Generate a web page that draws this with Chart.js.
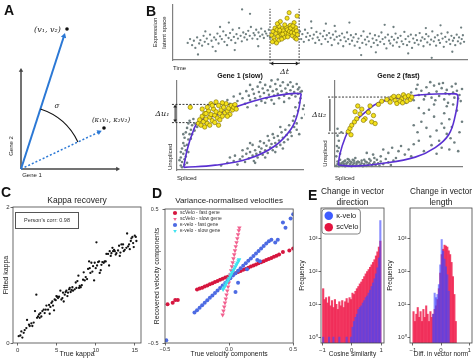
<!DOCTYPE html>
<html>
<head>
<meta charset="utf-8">
<title>velocity figure</title>
<script src="https://cdn.jsdelivr.net/npm/chart.js@4.4.1/dist/chart.umd.min.js"></script>
<style>
  html, body { margin: 0; padding: 0; background: #fff; }
  body { position: relative; width: 474px; height: 359px; overflow: hidden; font-family: 'Liberation Sans', Arial, sans-serif; }
  canvas { position: absolute; }
  .tag { position: absolute; font-size: 14px; line-height: 14px; font-weight: bold; color: #111; }
  .corr { position: absolute; left: 15px; top: 212px; width: 62px; height: 15px; border: 1px solid #555;
          font-size: 5.5px; line-height: 15px; text-align: center; color: #333; }
</style>
</head>
<body>
<canvas id="chartA" width="160" height="180" style="left:0;top:0"></canvas>
<canvas id="chartLatent" width="324" height="80" style="left:150px;top:0"></canvas>
<canvas id="chartGene1" width="150" height="115" style="left:155px;top:68px"></canvas>
<canvas id="chartGene2" width="164" height="115" style="left:310px;top:68px"></canvas>
<canvas id="chartKappa" width="150" height="164" style="left:0;top:195px"></canvas>
<canvas id="chartVel" width="152" height="163" style="left:146px;top:196px"></canvas>
<canvas id="chartDir" width="88" height="172" style="left:298px;top:187px"></canvas>
<canvas id="chartLen" width="88" height="172" style="left:386px;top:187px"></canvas>
<div class="tag" style="left:4px;top:3px">A</div>
<div class="tag" style="left:146px;top:4px">B</div>
<div class="tag" style="left:1px;top:185px">C</div>
<div class="tag" style="left:152px;top:186px">D</div>
<div class="tag" style="left:308px;top:188px">E</div>
<div class="corr">Person's corr: 0.98</div>

<script>
// ---------- panel A: velocity vectors in gene space ----------
const geneAxisX = [96.5, 0];
const geneAxisY = [0, 98.5];
const vecV = [43, 133];          // arrow tip towards (v1, v2)
const vecK = [78, 37];           // arrow tip towards (k1 v1, k2 v2)
const vecEnds = [[46, 140], [83, 41]];
const sigmaRadius = 63;

// ---------- panel B: latent time strip ----------
const latentGray = [
  [5.0,31],[5.8,38],[6.5,27],[7.1,35],[7.6,22],[8.2,41],[8.9,30],[9.3,36],[9.9,26],[10.4,44],
  [10.8,33],[11.5,39],[12.0,29],[12.6,46],[13.1,35],[13.5,24],[14.0,41],[14.6,37],[15.1,48],[15.5,30],
  [16.0,43],[16.6,38],[17.1,52],[17.5,33],[18.0,45],[18.4,27],[18.9,40],[19.4,49],[19.8,36],[20.3,55],
  [20.7,42],[21.2,31],[21.6,47],[22.1,39],[22.5,58],[23.0,44],[23.4,34],[23.9,50],[24.3,41],[24.8,47],
  [25.2,37],[25.6,53],[26.1,44],[26.5,60],[27.0,39],[27.4,49],[27.8,45],[28.3,55],[28.7,38],[29.1,50],
  [29.6,43],[30.0,57],[30.4,46],[30.9,40],[31.3,52],[31.7,48],[32.2,44],[32.6,55],[33.0,41],
  [8.5,10],[14.5,16],[23.5,92],[26.2,84],[19,68],[11,52],[21,18],[29,25],[16,60],
  [43.2,52],[43.6,38],[44.0,47],[44.5,33],[44.9,55],[45.3,42],[45.8,49],[46.2,36],[46.6,44],[47.1,58],
  [47.5,39],[47.9,46],[48.4,31],[48.8,51],[49.2,41],[49.7,36],[50.1,48],[50.5,29],[51.0,43],[51.4,53],
  [51.8,38],[52.3,45],[52.7,33],[53.1,49],[53.6,40],[54.0,27],[54.4,46],[54.9,37],[55.3,52],[55.7,42],
  [56.2,30],[56.6,44],[57.0,36],[57.5,48],[57.9,25],[58.3,41],[58.8,34],[59.2,50],[59.6,38],[60.1,29],
  [60.5,45],[60.9,35],[61.4,41],[61.8,26],[62.2,47],[62.7,33],[63.1,39],[63.5,22],[64.0,44],[64.4,31],
  [64.8,52],[65.3,37],[65.7,28],[66.1,42],[66.6,34],[67.0,48],[67.4,24],[67.9,39],[68.3,31],[68.7,45],
  [69.2,36],[69.6,27],[70.0,43],[70.5,33],[70.9,50],[71.3,38],[71.8,29],[72.2,41],[72.6,21],[73.1,46],
  [73.5,35],[73.9,30],[74.4,42],[74.8,26],[75.2,37],[75.7,48],[76.1,32],[76.5,40],[77.0,24],[77.4,44],
  [77.8,34],[78.3,29],[78.7,51],[79.1,38],[79.6,27],[80.0,43],[80.4,33],[80.9,46],[81.3,22],[81.7,39],
  [82.2,31],[82.6,45],[83.0,36],[83.5,28],[83.9,49],[84.3,35],[84.8,41],[85.2,25],[85.6,38],[86.1,47],
  [86.5,32],[86.9,43],[87.4,28],[87.8,37],[88.2,52],[88.7,34],[89.1,41],[89.5,26],[90.0,45],[90.4,36],
  [90.8,31],[91.3,48],[91.7,39],[92.1,24],[92.6,42],[93.0,33],[93.4,50],[93.9,37],[94.3,29],[94.7,44],
  [95.2,35],[95.6,40],[96.0,27],[96.5,46],[96.9,34],[97.3,41],[97.8,30],[98.2,38],[98.6,45],[99.0,33],
  [47,70],[52,66],[55,62],[64,9],[69,14],[75,60],[80,12],[86,58],[88,4],[91,63],[95,15],[98,59],[60,68],[72,64]
];
const latentYellow = [
  [33.6,45],[34.0,52],[34.3,40],[34.7,58],[35.0,48],[35.4,55],[35.7,43],[36.1,61],[36.4,50],[36.8,46],
  [37.1,57],[37.5,53],[37.8,41],[38.2,49],[38.5,60],[38.9,55],[39.2,47],[39.6,52],[39.9,63],[40.3,50],
  [40.6,44],[41.0,56],[41.3,49],[41.7,59],[42.0,53],[42.3,46],[34.5,35],[36.0,36],[37.3,47],[38.0,64],
  [39.0,42],[40.0,58],[41.5,40],[35.5,66],[36.5,70],[38.8,76],[39.5,86],[41.2,68],[42.2,80],[37.0,38],
  [33.8,33],[35.2,31],[40.8,62],[42.0,38],[36.3,54]
];
const timeWindow = [33, 42.9];

// ---------- panel B: phase portraits ----------
const gene1Curve = [
  [5.3,2.9],[30.3,5.4],[56.6,12.5],[77.6,26.8],[90.8,46.4],[96,64.3],[98.2,82.1],[98.2,85],
  [88.2,85],[69.7,80.4],[48.7,71.4],[30.3,60.7],[17.1,53.6],[11.8,39.3],[7.9,21.4],[5.8,7.1],[5.3,2.9]
];
const gene1Gray = [
  [3,5],[4,9],[3,14],[5,18],[4,24],[6,12],[5,30],[7,22],[6,36],[8,28],[7,42],[9,34],[8,47],[10,40],[9,52],
  [4,3],[6,6],[8,8],[11,45],[12,50],[3,20],[5,40],[7,15],[10,55],[13,57],[14,52],[2,11],[6,27],[9,20],[11,35],
  [40,8],[45,10],[48,6],[50,12],[52,15],[54,9],[55,18],[57,13],[58,20],[60,16],[61,10],[62,22],[63,18],[64,14],
  [65,26],[66,20],[67,24],[68,17],[69,30],[70,22],[71,27],[72,19],[73,33],[74,25],[75,29],[76,22],[77,36],[78,30],
  [79,26],[80,38],[81,33],[82,28],[83,42],[84,36],[85,31],[86,45],[87,39],[88,34],[89,50],[90,42],[91,38],[92,55],
  [60,28],[66,32],[72,38],[56,24],[62,8],[70,14],[78,20],[84,24],[46,16],[52,22],[58,30],[76,40],[82,48],[35,5],[42,14],
  [93,60],[95,52],[96,66],[94,70],[97,75],[99,58],[100,68],[98,80],[101,72],[95,45],[97,40],[102,62],[99,88],[96,90],[93,48],
  [40,78],[42,74],[45,82],[48,77],[50,85],[52,80],[54,74],[55,88],[57,83],[58,78],[60,90],[61,85],[62,80],[64,93],
  [65,87],[66,82],[67,77],[68,91],[69,86],[70,95],[71,80],[72,89],[73,84],[74,93],[75,78],[76,88],[77,83],[78,96],
  [79,90],[80,85],[81,80],[82,94],[83,88],[84,98],[85,83],[86,91],[87,86],[88,95],[89,80],[90,89],[91,84],[92,93],
  [93,87],[94,82],[95,96],[96,85],[97,92],[98,87],[63,72],[70,75],[77,74],[85,76],[47,70],[56,70],[90,98],[75,100],
  [66,98],[58,95],[80,101],[36,70],[38,66],[44,68],
  [16,48],[18,55],[20,50],[22,58],[24,53],[26,60],[28,56],[30,62],[32,58],[14,44],[12,40]
];
const gene1Yellow = [
  [10.5,70],[17,52],[18,56],[19,50],[20,60],[21,54],[22,63],[23,57],[24,52],[25,66],[26,59],[27,62],[28,55],
  [29,68],[30,61],[31,65],[32,58],[33,72],[34,63],[35,67],[36,60],[37,70],[38,64],[39,74],[40,66],[41,69],
  [42,62],[43,72],[44,67],[45,70],[46,73],[47,68],[24,70],[27,74],[31,76],[20,68],[22,48],[26,50],[30,53],
  [34,56],[23,63],[28,72],[36,75],[40,60],[33,50]
];
const gene1Du = [52.9, 73.2];

const gene2Curve = [
  [2.6,1.9],[3.9,14.8],[7.9,33.3],[13.2,48.1],[23.7,63],[34.2,74.1],[50,79.6],[68.4,83.3],[94.7,84.4],
  [96.8,81.5],[94.7,59.3],[89.5,37],[78.9,22.2],[63.2,11.1],[36.8,3.7],[15.8,0.7],[2.6,1.9]
];
const gene2Gray = [
  [1,1],[2,3],[3,0.5],[4,2],[5,4],[6,1],[7,3],[8,0.5],[9,2],[10,5],[11,1],[12,3],[13,0.5],[14,2],[15,4],[16,1],
  [17,3],[18,6],[19,1],[20,2],[21,4],[22,0.5],[23,3],[24,6],[25,1],[26,2],[27,4],[28,7],[29,1],[30,3],[31,5],
  [32,2],[33,8],[34,4],[35,1],[36,6],[38,3],[40,9],[42,5],[44,2],[46,7],[2,6],[4,8],[6,5],[8,7],[10,9],[12,6],
  [14,8],[16,10],[3,4],[7,6],[11,8],[15,7],[19,5],[23,8],[27,9],[31,10],[5,1.5],[9,4],[13,5],[17,5],[21,7],[25,5],
  [1,12],[2,18],[1.5,24],[3,30],[2,36],[4,15],[3,22],[5,40],[2,44],
  [30,14],[36,12],[42,16],[48,10],[50,18],[55,14],[52,24],[58,20],[45,22],[60,12],[38,20],[25,16],[62,26],[66,30],[70,18],
  [65,40],[68,52],[72,45],[75,35],[78,58],[80,42],[82,30],[84,50],[86,62],[88,38],[90,55],[92,46],[94,28],[96,65],
  [98,40],[74,66],[70,62],[88,70],[93,72],[100,52],[84,22],[76,25],[80,15],[90,20],[97,18],[62,48],[66,68],[78,72],
  [91,33],[86,45],
  [58,80],[60,86],[62,77],[64,90],[66,83],[68,88],[70,78],[72,92],[74,85],[76,80],[78,94],[80,87],[82,82],[84,91],
  [86,78],[88,89],[90,84],[92,93],[94,80],[96,88],[98,83],[100,90],[99,76],[95,96],[85,97],[75,98],[65,95],[71,82],
  [79,77],[87,85],[93,86],[97,79],[56,74],[53,78],[89,74],[82,96]
];
const gene2Yellow = [
  [10.5,40.7],[11.8,44.4],[13.2,48.1],[15.3,51.9],[17.1,55.6],[19.7,61.1],[17.9,70.4],[21.1,66.7],[23.7,55.6],
  [26.3,63],[28.9,51.9],[30.3,59.3],[31.6,50],[27.6,70.4],[34.2,72.2],[36.8,75.9],[40.8,77.8],[44.7,79.6],
  [47.4,77],[50,81.5],[52.6,78.5],[53.9,83.3],[55.3,80.7],[57.9,82.2],[59.2,77.8],[60.5,80.7],[43.4,74.8],
  [48.7,73.3],[51.3,75.9],[12.6,37],[15.8,63.7],[22.4,53.7],[53.2,74],[56.6,75.9],[46.3,81.5]
];
const gene2Du = [38.9, 80.7];

// ---------- panel C: kappa recovery (true, fitted) ----------
const kappaPoints = [
  [0.13,0.10],[0.34,0.11],[0.60,0.08],[0.47,0.17],[0.77,0.15],[0.90,0.19],[1.11,0.22],[1.20,0.34],[1.45,0.27],
  [1.54,0.25],[1.75,0.29],[1.88,0.25],[2.05,0.30],[2.22,0.47],[2.39,0.71],[2.48,0.37],[2.61,0.39],[2.74,0.42],
  [2.82,0.37],[2.91,0.44],[3.03,0.39],[3.16,0.47],[3.33,0.49],[3.46,0.44],[3.59,0.49],[3.68,0.55],[3.89,0.49],
  [4.02,0.56],[4.10,0.43],[4.19,0.53],[4.32,0.59],[4.44,0.61],[4.53,0.55],[4.66,0.48],[4.74,0.64],[4.87,0.63],
  [4.96,0.69],[5.04,0.68],[5.17,0.66],[5.30,0.68],[5.47,0.77],[5.60,0.64],[5.73,0.66],[5.81,0.74],[5.90,0.61],
  [6.03,0.71],[6.15,0.75],[6.24,0.77],[6.37,0.69],[6.45,0.74],[6.58,0.79],[6.67,0.81],[6.79,0.75],[6.88,0.78],
  [7.01,0.82],[7.09,0.77],[7.31,0.79],[7.44,0.89],[7.52,0.81],[7.65,0.91],[7.78,0.99],[7.86,0.81],[7.95,0.84],
  [8.08,0.82],[8.21,0.85],[8.38,0.93],[8.46,1.04],[8.59,0.92],[8.72,0.97],[8.89,0.94],[9.02,1.09],[9.15,1.20],
  [9.23,1.10],[9.32,1.03],[9.44,1.18],[9.57,1.05],[9.66,1.13],[9.79,0.92],[9.87,1.18],[10.00,1.10],[10.09,1.48],
  [10.17,1.14],[10.30,1.19],[10.43,1.20],[10.51,1.03],[10.64,1.07],[10.73,1.15],[10.85,1.19],[11.03,1.18],
  [11.15,1.20],[11.28,1.20],[11.37,1.31],[11.58,1.31],[11.71,1.14],[11.79,1.35],[11.92,1.28],[12.01,1.32],
  [12.14,1.40],[12.22,1.35],[12.35,1.37],[12.44,1.35],[12.56,1.30],[12.65,1.32],[12.86,1.36],[12.99,1.43],
  [13.08,1.28],[13.16,1.33],[13.29,1.45],[13.42,1.40],[13.50,1.45],[13.59,1.35],[13.72,1.37],[13.93,1.40],
  [14.02,1.61],[14.15,1.42],[14.27,1.45],[14.36,1.38],[14.49,1.50],[14.57,1.54],[14.70,1.56],[14.79,1.47],
  [14.87,1.41],[15.00,1.58],[15.13,1.56],[15.21,1.50]
];
const kappaXTicks = [0, 5, 10, 15];
const kappaYTicks = [0, 2];

// ---------- panel D: variance-normalised velocities (true, recovered) ----------
const scveloFast = [
  [-0.48,-0.21],[-0.44,-0.20],[-0.42,-0.18],[-0.40,-0.18],
  [-0.25,-0.100],[-0.23,-0.094],[-0.21,-0.087],[-0.19,-0.078],[-0.17,-0.071],[-0.15,-0.061],[-0.13,-0.054],
  [-0.11,-0.045],[-0.09,-0.038],[-0.07,-0.028],[-0.05,-0.021],[-0.03,-0.012],[-0.01,-0.005],[0.01,0.004],
  [0.03,0.013],[0.05,0.020],[0.07,0.029],[0.09,0.037],[0.11,0.046],[0.13,0.053],[0.15,0.062],[0.17,0.070],
  [0.19,0.078],[0.21,0.086],[0.23,0.095],[0.25,0.102],[0.27,0.111],[0.29,0.119],[0.31,0.127],[0.33,0.135],
  [0.35,0.144],[0.37,0.152],[0.39,0.160],[0.42,0.18],[0.47,0.19],[0.50,0.205]
];
const scveloSlow = [
  [-0.050,-0.29],[-0.044,-0.26],[-0.038,-0.23],[-0.032,-0.20],[-0.026,-0.17],[-0.020,-0.14],[-0.014,-0.11],
  [-0.008,-0.08],[-0.002,-0.05],[0.004,-0.02],[0.010,0.01],[0.016,0.04],[0.022,0.07],[0.028,0.10],[0.034,0.13],
  [0.040,0.16],[0.046,0.19],[0.052,0.22],[0.058,0.25],[0.064,0.28],[0.070,0.31],[0.076,0.34],[0.080,0.36]
];
const kvFast = [
  [-0.27,-0.273],[-0.25,-0.255],[-0.23,-0.237],[-0.21,-0.218],[-0.19,-0.200],[-0.17,-0.181],[-0.15,-0.163],
  [-0.13,-0.145],[-0.11,-0.126],[-0.09,-0.108],[-0.07,-0.089],[-0.05,-0.071],[-0.03,-0.053],[-0.01,-0.034],
  [0.01,-0.016],[0.03,0.003],[0.05,0.021],[0.07,0.039],[0.09,0.058],[0.11,0.076],[0.13,0.095],[0.15,0.113],
  [0.17,0.131],[0.19,0.150],[0.21,0.168],[0.23,0.187],[0.25,0.205],[0.27,0.223],[0.29,0.242],[0.31,0.260],
  [0.33,0.27],[0.36,0.25],[0.38,0.27],[0.42,0.40],[0.44,0.36],[0.48,0.43],[0.50,0.46],[0.24,0.11],[0.22,0.12],
  [0.14,0.05],[0.07,-0.05],[0.05,-0.12],[-0.49,-0.48]
];
const kvSlow = [
  [-0.047,-0.100],[-0.039,-0.086],[-0.031,-0.072],[-0.023,-0.057],[-0.015,-0.043],[-0.007,-0.029],[0.001,-0.015],
  [0.009,-0.001],[0.017,0.014],[0.025,0.028],[0.033,0.042],[0.041,0.056],[0.049,0.071],[0.057,0.085],
  [0.065,0.099],[0.073,0.113],[0.078,0.122]
];
const velTicksX = [-0.5, 0, 0.5];
const velLabelsX = ['\u22120.5', '0.0', '0.5'];
const velTicksY = [-0.5, 0.5];
const velLabelsY = ['\u22120.5', '0.5'];

// ---------- panel E: histograms (bin centres, counts) ----------
const dirBins = [-0.975,-0.925,-0.875,-0.825,-0.775,-0.725,-0.675,-0.625,-0.575,-0.525,-0.475,-0.425,-0.375,-0.325,
  -0.275,-0.225,-0.175,-0.125,-0.075,-0.025,0.025,0.075,0.125,0.175,0.225,0.275,0.325,0.375,0.425,0.475,0.525,
  0.575,0.625,0.675,0.725,0.775,0.825,0.875,0.925,0.975];
const dirKappa = [1,null,null,null,1,null,null,1,null,null,null,1,null,null,null,null,1,null,null,1,
  2,3,4,5,7,8,9,11,13,16,18,22,27,35,45,60,85,130,260,3600];
const dirScvelo = [30,14,16,11,17,9,13,8,14,10,7,12,9,13,8,12,15,11,16,14,
  22,20,25,30,35,42,48,58,70,85,100,115,135,160,190,230,300,400,560,850];

const lenBins = [-0.975,-0.925,-0.875,-0.825,-0.775,-0.725,-0.675,-0.625,-0.575,-0.525,-0.475,-0.425,-0.375,-0.325,
  -0.275,-0.225,-0.175,-0.125,-0.075,-0.025,0.025,0.075,0.125,0.175,0.225,0.275,0.325,0.375,0.425,0.475,0.525];
const lenKappa = [null,null,null,null,null,null,null,null,null,null,null,null,null,null,
  5,22,16,20,40,160,950,420,240,140,80,25,null,null,null,null,null];
const lenScvelo = [6,3,5,8,4,6,3,7,4,9,5,3,6,4,5,7,9,14,30,90,330,480,640,600,560,430,330,190,70,20,3];

const histTicksX = [-1, 0, 1];
const histLabelsX = ['\u22121', '0', '1'];
const freqTicks = [1, 10, 100, 1000];
const freqLabels = ['10\u2070', '10\u00b9', '10\u00b2', '10\u00b3'];

// ---------- shared style ----------
const GRAY = '#6f7f80';
const YELLOW = '#f4e11c';
const YELLOW_EDGE = '#7a6a00';
const PURPLE = '#5a30d2';
const ARROW_BLUE = '#2b78d5';
const SERIF = '"DejaVu Serif", serif';
const SANS = '"Liberation Sans", Arial, sans-serif';

Chart.defaults.font.family = SANS;
Chart.defaults.color = '#333';
Chart.defaults.animation = false;
Chart.defaults.responsive = false;
Chart.defaults.devicePixelRatio = 1;
Chart.defaults.events = [];
Chart.defaults.layout.autoPadding = false;
Chart.defaults.plugins.legend.display = false;
Chart.defaults.plugins.tooltip.enabled = false;

const toXY = arr => arr.map(([x, y]) => ({x, y}));
const toBars = (bins, counts) => bins.map((b, i) => ({x: b, y: counts[i]}));

// straight segment, optional triangle heads at either end
function segment(from, to, opts = {}) {
  const ang = Math.atan2(to[0] - from[0], to[1] - from[1]) * 180 / Math.PI;
  const heads = opts.heads || [false, false];
  const r = opts.head || 2.5;
  const color = opts.color || '#222';
  return {
    data: toXY([from, to]),
    showLine: true,
    borderColor: color,
    borderWidth: opts.width || 1,
    borderDash: opts.dash || [],
    pointStyle: 'triangle',
    pointRadius: [heads[0] ? r : 0, heads[1] ? r : 0],
    pointRotation: [ang + 180, ang],
    pointBackgroundColor: color,
    pointBorderWidth: 0,
    clip: false
  };
}

// text placed at data coordinates
function notesPlugin(items) {
  return {
    id: 'notes',
    afterDatasetsDraw(chart) {
      const {ctx, scales: {x, y}} = chart;
      items.forEach(n => {
        ctx.save();
        ctx.font = n.font;
        ctx.fillStyle = n.color || '#222';
        ctx.textAlign = n.align || 'center';
        ctx.textBaseline = 'middle';
        ctx.translate(x.getPixelForValue(n.x), y.getPixelForValue(n.y));
        if (n.rotation) ctx.rotate(n.rotation * Math.PI / 180);
        ctx.fillText(n.text, 0, 0);
        ctx.restore();
      });
    }
  };
}

// matplotlib style box around the axes
const framePlugin = {
  id: 'frame',
  afterDatasetsDraw(chart) {
    const {ctx, chartArea: a} = chart;
    ctx.save();
    ctx.strokeStyle = '#444';
    ctx.lineWidth = 0.8;
    ctx.strokeRect(a.left, a.top, a.width, a.height);
    ctx.restore();
  }
};

// legend inside the plot, top left, optionally boxed
function legendInside(dx, dy, boxed) {
  return {
    id: 'legendInside',
    afterLayout(chart) {
      const lg = chart.legend, a = chart.chartArea;
      if (!lg) return;
      lg.left = a.left + dx;
      lg.top = a.top + dy;
      lg.right = a.right;
      lg.bottom = a.bottom;
    },
    afterDraw(chart) {
      const lg = chart.legend;
      if (!boxed || !lg || !lg.columnSizes || !lg.columnSizes[0]) return;
      const col = lg.columnSizes[0];
      const pad = lg.options.labels.padding;
      const {ctx} = chart;
      ctx.save();
      ctx.strokeStyle = '#666';
      ctx.lineWidth = 0.8;
      ctx.beginPath();
      ctx.roundRect(lg.left + pad - 3, lg.top + pad - 3, col.width + 5, col.height - pad + 6, 3);
      ctx.stroke();
      ctx.restore();
    }
  };
}

// arc marking the angle between the two vectors
function anglePlugin(v, w, radius) {
  return {
    id: 'angleArc',
    afterDatasetsDraw(chart) {
      const {ctx, scales: {x, y}} = chart;
      const cx = x.getPixelForValue(0), cy = y.getPixelForValue(0);
      const r = x.getPixelForValue(radius) - cx;
      const a0 = Math.atan2(y.getPixelForValue(v[1]) - cy, x.getPixelForValue(v[0]) - cx);
      const a1 = Math.atan2(y.getPixelForValue(w[1]) - cy, x.getPixelForValue(w[0]) - cx);
      ctx.save();
      ctx.strokeStyle = '#111';
      ctx.lineWidth = 1.1;
      ctx.beginPath();
      ctx.arc(cx, cy, r, a0, a1, false);
      ctx.stroke();
      ctx.restore();
    }
  };
}

// axis with fixed ticks, outward tick marks (C, D, E)
function plotAxis(o) {
  return {
    type: o.type || 'linear',
    min: o.min,
    max: o.max,
    offset: false,
    afterBuildTicks: s => { s.ticks = o.ticks.map(v => ({value: v})); },
    ticks: {font: {size: o.tickSize || 6}, color: '#333', padding: o.tickPad == null ? 1 : o.tickPad,
            maxRotation: 0, autoSkip: false, callback: (v, i) => o.labels[i]},
    grid: {display: true, drawOnChartArea: false, offset: false, tickLength: 2.5, color: '#444', lineWidth: 0.8},
    border: {display: false},
    title: {display: true, text: o.title, font: {size: o.titleSize || 7}, color: '#222', padding: o.titlePad},
    afterFit: s => { if (s.isHorizontal()) s.height = o.fit; else s.width = o.fit; }
  };
}

// bare axis: only the spine line (B)
function bareAxis(title, align, titleFont, titlePad, fit) {
  return {
    type: 'linear', min: 0, max: 100,
    ticks: {display: false},
    grid: {display: false},
    border: {display: true, color: '#808080', width: 1.2},
    title: {display: true, text: title, align: align, font: titleFont, color: '#222', padding: titlePad},
    afterFit: s => { if (s.isHorizontal()) s.height = fit; else s.width = fit; }
  };
}

// ---------- A ----------
new Chart(document.getElementById('chartA'), {
  type: 'scatter',
  data: {
    datasets: [
      {data: toXY(vecEnds), pointRadius: 1.8, pointBackgroundColor: '#111', pointBorderWidth: 0},
      segment([0, 0], vecV, {color: ARROW_BLUE, width: 2, heads: [false, true], head: 3.2}),
      segment([0, 0], vecK, {color: ARROW_BLUE, width: 1.5, dash: [2, 2], heads: [false, true], head: 3}),
      segment([0, 0], geneAxisX, {color: '#444', width: 1.5, heads: [false, true], head: 2.6}),
      segment([0, 0], geneAxisY, {color: '#444', width: 1.5, heads: [false, true], head: 2.6})
    ]
  },
  options: {
    scales: {
      x: {type: 'linear', display: false, min: -21, max: 139},
      y: {type: 'linear', display: false, min: -11, max: 169}
    }
  },
  plugins: [anglePlugin(vecV, vecK, sigmaRadius), notesPlugin([
    {x: 26.5, y: 139.5, text: '(v\u2081, v\u2082)', font: `italic 8px ${SERIF}`},
    {x: 36, y: 63, text: '\u03c3', font: `italic 7px ${SERIF}`},
    {x: 90, y: 49, text: '(\u03ba\u2081v\u2081, \u03ba\u2082v\u2082)', font: `italic 7px ${SERIF}`},
    {x: -9.3, y: 23, text: 'Gene 2', font: `6px ${SANS}`, rotation: -90},
    {x: 11, y: -6.5, text: 'Gene 1', font: `6px ${SANS}`}
  ])]
});

// ---------- B: latent time ----------
new Chart(document.getElementById('chartLatent'), {
  type: 'scatter',
  data: {
    datasets: [
      {data: toXY(latentYellow), pointRadius: 2.1, pointBackgroundColor: YELLOW, pointBorderColor: YELLOW_EDGE,
       pointBorderWidth: 0.6, clip: false},
      {data: toXY(latentGray), pointRadius: 1.15, pointBackgroundColor: GRAY, pointBorderWidth: 0, clip: false},
      segment([timeWindow[0], -7], [timeWindow[0], 93], {dash: [1.5, 1.5], width: 1}),
      segment([timeWindow[1], -7], [timeWindow[1], 93], {dash: [1.5, 1.5], width: 1}),
      segment([timeWindow[0] + 0.75, -6.4], [timeWindow[1] - 0.75, -6.4], {heads: [true, true], head: 2.2, width: 1})
    ]
  },
  options: {
    layout: {padding: {left: 0, top: 5, right: 7, bottom: 0}},
    scales: {
      x: bareAxis('Time', 'start', {size: 6}, {top: 0, bottom: 8}, 20),
      y: bareAxis(['Expression', 'latent space'], 'center', {size: 6, lineHeight: 1.6}, {top: 0.2, bottom: 0}, 23)
    }
  },
  plugins: [notesPlugin([{x: 37.9, y: -21, text: '\u0394t', font: `italic 8px ${SERIF}`}])]
});

// ---------- B: phase portraits ----------
function geneChart(id, cfg) {
  return new Chart(document.getElementById(id), {
    type: 'scatter',
    data: {
      datasets: [
        {data: toXY(cfg.yellow), pointRadius: 2.2, pointBackgroundColor: YELLOW, pointBorderColor: YELLOW_EDGE,
         pointBorderWidth: 0.6, clip: false},
        {data: toXY(cfg.curve), showLine: true, tension: 0.4, borderColor: PURPLE, borderWidth: 1.6,
         pointRadius: 0, clip: false},
        {data: toXY(cfg.gray), pointRadius: 1.3, pointBackgroundColor: GRAY, pointBorderWidth: 0, clip: false},
        segment([cfg.dashX, cfg.du[1]], [cfg.upperEnd, cfg.du[1]], {dash: [2, 1.5], width: 0.9}),
        segment([cfg.dashX, cfg.du[0]], [cfg.lowerEnd, cfg.du[0]], {dash: [2, 1.5], width: 0.9}),
        segment([cfg.arrowX, cfg.du[0] + cfg.inset], [cfg.arrowX, cfg.du[1] - cfg.inset],
                {heads: [true, true], head: 2.1, width: 1})
      ]
    },
    options: {
      layout: {padding: cfg.padding},
      plugins: {
        title: {display: true, text: cfg.title, fullSize: false, font: {size: 7, weight: 'bold'}, color: '#111',
                padding: {top: 4, bottom: 0}}
      },
      scales: {
        x: bareAxis('Spliced', 'start', {size: 6}, {top: 0, bottom: 1.4}, cfg.xFit),
        y: bareAxis('Unspliced', 'start', {size: 6}, {top: cfg.yTitlePad, bottom: 0}, cfg.yFit)
      }
    },
    plugins: [notesPlugin(cfg.notes)]
  });
}

geneChart('chartGene1', {
  title: 'Gene 1 (slow)', yellow: gene1Yellow, gray: gene1Gray, curve: gene1Curve, du: gene1Du,
  dashX: -4, upperEnd: 45, lowerEnd: 17, arrowX: -1.5, inset: 2.4,
  padding: {left: 8, top: 0, right: 2, bottom: 0}, xFit: 13, yFit: 14, yTitlePad: 3.9,
  notes: [{x: -6, y: 63, text: '\u0394u\u2081', align: 'right', font: `italic 8px ${SERIF}`}]
});

geneChart('chartGene2', {
  title: 'Gene 2 (fast)', yellow: gene2Yellow, gray: gene2Gray, curve: gene2Curve, du: gene2Du,
  dashX: -5.5, upperEnd: 50, lowerEnd: 10.5, arrowX: -4, inset: 2.3,
  padding: {left: 10, top: 0, right: 12, bottom: 0}, xFit: 16.3, yFit: 15, yTitlePad: 1.4,
  notes: [{x: -7, y: 60, text: '\u0394u\u2082', align: 'right', font: `italic 8px ${SERIF}`}]
});

// ---------- C ----------
new Chart(document.getElementById('chartKappa'), {
  type: 'scatter',
  data: {
    datasets: [{data: toXY(kappaPoints), pointRadius: 1.15, pointBackgroundColor: '#111', pointBorderWidth: 0}]
  },
  options: {
    layout: {padding: {left: 0, top: 0, right: 9, bottom: 0}},
    plugins: {
      title: {display: true, text: 'Kappa recovery', fullSize: false, font: {size: 8.5, weight: 'normal'},
              color: '#222', padding: {top: 0.8, bottom: 1}}
    },
    scales: {
      x: plotAxis({min: -0.6, max: 15.8, ticks: kappaXTicks, labels: kappaXTicks.map(String),
                   title: 'True kappa', titlePad: {top: 0, bottom: 0.5}, fit: 16}),
      y: plotAxis({min: 0, max: 2, ticks: kappaYTicks, labels: kappaYTicks.map(String),
                   title: 'Fitted kappa', titlePad: {top: 1.5, bottom: 0}, fit: 13})
    }
  },
  plugins: [framePlugin]
});

// ---------- D ----------
new Chart(document.getElementById('chartVel'), {
  type: 'scatter',
  data: {
    datasets: [
      {label: 'scVelo - fast gene', data: toXY(scveloFast), order: 4, pointStyle: 'circle', pointRadius: 2,
       pointBackgroundColor: '#d6163f', pointBorderWidth: 0},
      {label: 'scVelo - slow gene', data: toXY(scveloSlow), order: 3, pointStyle: 'triangle', pointRotation: 180,
       pointRadius: 2.6, pointBackgroundColor: '#f2608f', pointBorderWidth: 0},
      {label: '\u03ba-velo - fast gene', data: toXY(kvFast), order: 2, pointStyle: 'circle', pointRadius: 2,
       pointBackgroundColor: '#4d6be3', pointBorderWidth: 0},
      {label: '\u03ba-velo - slow gene', data: toXY(kvSlow), order: 1, pointStyle: 'triangle', pointRotation: 180,
       pointRadius: 2.6, pointBackgroundColor: '#3fe3f0', pointBorderWidth: 0}
    ]
  },
  options: {
    layout: {padding: {left: 0, top: 0, right: 4, bottom: 0}},
    plugins: {
      title: {display: true, text: 'Variance-normalised velocities', fullSize: false,
              font: {size: 8, weight: 'normal'}, color: '#222', padding: {top: 0, bottom: 3.4}},
      legend: {
        display: true, position: 'chartArea', align: 'start',
        labels: {usePointStyle: true, boxHeight: 3, font: {size: 5}, color: '#333', padding: 1,
                 sort: (a, b) => a.datasetIndex - b.datasetIndex}
      }
    },
    scales: {
      x: plotAxis({min: -0.5, max: 0.5, ticks: velTicksX, labels: velLabelsX, tickSize: 5.5,
                   title: 'True velocity components', titleSize: 6.8, titlePad: {top: 0, bottom: 0.5}, fit: 16}),
      y: plotAxis({min: -0.5, max: 0.5, ticks: velTicksY, labels: velLabelsY, tickSize: 5.5, tickPad: 4,
                   title: 'Recovered velocity components', titleSize: 6.8, titlePad: {top: 7, bottom: 0}, fit: 19})
    }
  },
  plugins: [framePlugin, legendInside(6.5, 0.5, false)]
});

// ---------- E ----------
const histLegendColors = ['#3f5cff', '#e3143f'];

function histChart(id, bins, kappaCounts, scveloCounts, title, xTitle, withLegend, xRange, yFit) {
  return new Chart(document.getElementById(id), {
    type: 'bar',
    data: {
      datasets: [
        {label: '\u03ba-velo', data: toBars(bins, kappaCounts), backgroundColor: 'rgba(65,70,255,0.62)'},
        {label: 'scVelo', data: toBars(bins, scveloCounts), backgroundColor: 'rgba(240,32,78,0.86)'}
      ]
    },
    options: {
      layout: {padding: {left: 0, top: 0, right: 2, bottom: 0}},
      datasets: {bar: {grouped: false, barPercentage: 1, categoryPercentage: 1, borderWidth: 0}},
      plugins: {
        title: {display: true, text: title, fullSize: false, font: {size: 8.5, weight: 'normal'},
                color: '#222', padding: {top: 0, bottom: 0.6}},
        legend: {
          display: withLegend, position: 'chartArea', align: 'start',
          labels: {
            usePointStyle: true, pointStyle: 'circle', boxHeight: 6, font: {size: 7.5}, color: '#222', padding: 4,
            generateLabels: chart => Chart.defaults.plugins.legend.labels.generateLabels(chart).map(item => ({
              ...item, fillStyle: histLegendColors[item.datasetIndex],
              strokeStyle: histLegendColors[item.datasetIndex], lineWidth: 0, pointStyle: 'circle'
            }))
          }
        }
      },
      scales: {
        x: plotAxis({min: xRange[0], max: xRange[1], ticks: histTicksX, labels: histLabelsX,
                     title: xTitle, titleSize: 6.5, titlePad: {top: 0, bottom: 0.5}, fit: 16}),
        y: plotAxis({type: 'logarithmic', min: 0.66, max: 8700, ticks: freqTicks, labels: freqLabels,
                     title: 'Frequency', titleSize: 6.5, titlePad: {top: 0, bottom: 0}, fit: yFit})
      }
    },
    plugins: [framePlugin, legendInside(0, 0, true)]
  });
}

histChart('chartDir', dirBins, dirKappa, dirScvelo, ['Change in vector', 'direction'], 'Cosine similarity',
          true, [-1.05, 1.1], 23);
histChart('chartLen', lenBins, lenKappa, lenScvelo, ['Change in vector', 'length'], 'Diff. in vector norm',
          false, [-1.1, 1.1], 24);
</script>
</body>
</html>
